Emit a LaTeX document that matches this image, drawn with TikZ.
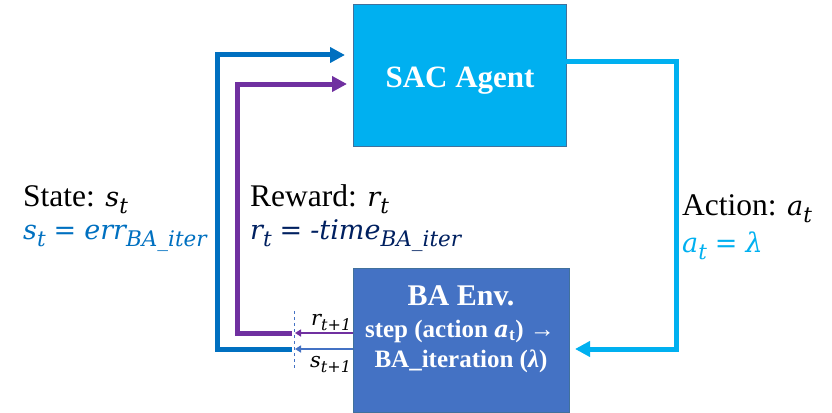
\documentclass[tikz,border=0pt]{standalone}
\usepackage{fontspec}
\setmainfont{Liberation Serif}
\newfontfamily\mfi{DejaVu Serif}
\usetikzlibrary{arrows.meta}
\definecolor{sacfill}{HTML}{00B0F0}
\definecolor{envfill}{HTML}{4472C4}
\definecolor{boxline}{HTML}{41719C}
\definecolor{stblue}{HTML}{0070C0}
\definecolor{rpurple}{HTML}{7030A0}
\definecolor{navy}{HTML}{002060}
\newcommand{\fs}[1]{\fontsize{#1}{#1}\selectfont}
\newcommand{\mi}[1]{{\mfi\itshape\fs{27}#1}}
\newcommand{\mis}[1]{{\mfi\itshape\fs{21}#1}}
\newcommand{\sbs}[1]{\raisebox{-7.5pt}{\mfi\itshape\fs{21.5}#1}}
\newcommand{\sbss}[1]{\raisebox{-5pt}{\mfi\itshape\fs{16}#1}}
\newcommand{\eqgap}{\hspace{8pt}}
\tikzset{
  x=1pt,y=-1pt,
  boxsty/.style={draw=boxline,line width=0.8pt,minimum width=#1,inner sep=0pt,anchor=north west},
  thick line/.style={line width=5pt,miter limit=10},
  bigtip/.style={-{Triangle[length=15pt,width=15pt]}},
  smalltip/.style={-{Triangle[length=6pt,width=7pt]},line width=2pt},
  lab/.style={anchor=base west,inner sep=0pt,font=\fs{31.5}},
  boxtext/.style={anchor=base,inner sep=0pt,text=white,font=\bfseries\fs{#1}},
}
\begin{document}
\begin{tikzpicture}
\useasboundingbox (0,0) rectangle (832,412);
\node[boxsty=213pt,minimum height=142pt,fill=sacfill] (sac) at (353,4) {};
\node[boxsty=216pt,minimum height=144pt,fill=envfill] (env) at (353,267.5) {};
\node[boxtext=31] (sactxt) at (460,87) {SAC Agent};
\node[boxtext=30] (envt1) at (461,305) {BA Env.};
\node[boxtext=25] (envt2) at (460,337) {step (action {\mfi\itshape\fs{23}a}\textsubscript{t}) →};
\node[boxtext=25] (envt3) at (461,367) {BA\_iteration (\textit{λ})};

% dashed divider
\coordinate (dtop) at (294,311);
\coordinate (dbot) at (294,369);
\draw[envfill,dashed,line width=0.7pt] (dtop) -- (dbot);

% small arrows
\coordinate (rs) at (353,333);
\coordinate (re) at (295,333);
\coordinate (ss) at (353,349);
\coordinate (se) at (295,349);
\draw[smalltip,rpurple] (rs) -- (re);
\draw[smalltip,envfill] (ss) -- (se);

% big connectors
\coordinate (s0) at (292,349);
\coordinate (s1) at (217,349);
\coordinate (s2) at (217,55);
\coordinate (s3) at (345,55);
\draw[thick line,bigtip,stblue] (s0) -- (s1) -- (s2) -- (s3);
\coordinate (r0) at (292,333);
\coordinate (r1) at (237,333);
\coordinate (r2) at (237,84);
\coordinate (r3) at (347,84);
\draw[thick line,bigtip,rpurple] (r0) -- (r1) -- (r2) -- (r3);
\coordinate (a0) at (566,62);
\coordinate (a1) at (676,62);
\coordinate (a2) at (676,349);
\coordinate (a3) at (575,349);
\draw[thick line,bigtip,sacfill] (a0) -- (a1) -- (a2) -- (a3);

% labels
\node[lab] (rn) at (311,325) {\mis{r}\sbss{t+1}};
\node[lab] (sn) at (310,367) {\mis{s}\sbss{t+1}};
\node[lab] (state) at (23,206) {State: \mi{s}\sbs{t}};
\node[lab,text=stblue] (statef) at (23,239) {\mi{s}\sbs{t}\eqgap\mi{=}\eqgap\mi{err}\sbs{BA\_iter}};
\node[lab] (reward) at (250,206) {Reward: \mi{r}\sbs{t}};
\node[lab,text=navy] (rewardf) at (250,239) {\mi{r}\sbs{t}\eqgap\mi{=}\eqgap\mi{-time}\sbs{BA\_iter}};
\node[lab] (action) at (682,215) {Action: \mi{a}\sbs{t}};
\node[lab,text=sacfill] (actionf) at (682,252) {\mi{a}\sbs{t}\eqgap\mi{=}\eqgap\mi{λ}};
\end{tikzpicture}
\end{document}
